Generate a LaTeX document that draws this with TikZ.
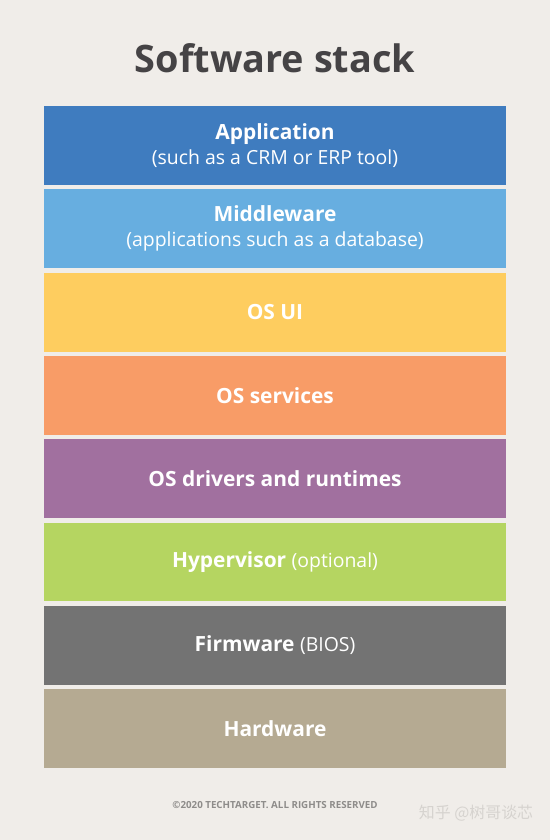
\documentclass[tikz,border=0pt]{standalone}
\usepackage{fontspec}
\setmainfont{Open Sans}
\newfontfamily\cjkfont{Noto Sans CJK SC}
\usepackage{xcolor}
\definecolor{BGCOLOR}{HTML}{F0EDE9}
\definecolor{TITLECOLOR}{HTML}{454345}
\definecolor{APPCOLOR}{HTML}{3F7CBF}
\definecolor{MIDCOLOR}{HTML}{67AEE0}
\definecolor{UICOLOR}{HTML}{FECD5F}
\definecolor{SVCCOLOR}{HTML}{F89C67}
\definecolor{DRVCOLOR}{HTML}{A1709F}
\definecolor{HYPCOLOR}{HTML}{B5D561}
\definecolor{FIRMCOLOR}{HTML}{737373}
\definecolor{HWCOLOR}{HTML}{B5AA92}
\definecolor{NOTECOLOR}{HTML}{8E8C8A}
\definecolor{MARKCOLOR}{HTML}{D6D3CF}
\usepackage{tikz}
\usetikzlibrary{positioning}
\newcommand{\subtext}[1]{{\mdseries\fontsize{19.5}{25}\selectfont #1}}
\tikzset{
  layer-style/.style = {
    rectangle, fill=#1, text=white,
    minimum width=462bp,
    minimum height=78.9bp,
    inner sep=0pt, align=center,
    font=\fontsize{21}{25}\selectfont\bfseries
  },
  title-style/.style = {
    text=TITLECOLOR, font=\fontsize{38}{42}\selectfont\bfseries
  },
  note-style/.style = {
    text=NOTECOLOR, font=\fontsize{9.8}{11}\selectfont\bfseries
  },
  mark-style/.style = {
    text=MARKCOLOR, font=\cjkfont\fontsize{16}{18}\selectfont
  }
}

\begin{document}
\begin{tikzpicture}[x=1bp,y=-1bp]
    \fill[BGCOLOR] (0,0) rectangle (550,840);
    \useasboundingbox (0,0) rectangle (550,840);

    %%% title
    \node[title-style] (title) at (275,58) {Software stack};

    %%% layers
    \node[layer-style=APPCOLOR] (app) at (275,145.5)
      {Application\\\subtext{(such as a CRM or ERP tool)}};
    \node[layer-style=MIDCOLOR,below=4bp of app] (mid)
      {Middleware\\\subtext{(applications such as a database)}};
    \node[layer-style=UICOLOR,below=4bp of mid] (osui) {OS UI};
    \node[layer-style=SVCCOLOR,below=4bp of osui] (ossvc) {OS services};
    \node[layer-style=DRVCOLOR,below=4bp of ossvc] (osdrv) {OS drivers and runtimes};
    \node[layer-style=HYPCOLOR,below=4bp of osdrv] (hyper)
      {Hypervisor \subtext{(optional)}};
    \node[layer-style=FIRMCOLOR,below=4bp of hyper] (firm)
      {Firmware \subtext{(BIOS)}};
    \node[layer-style=HWCOLOR,below=4bp of firm] (hw) {Hardware};

    %%% footer
    \node[note-style] (note) at (275,805) {\textcopyright2020 TECHTARGET. ALL RIGHTS RESERVED};
    \node[mark-style] (mark) at (476,813) {知乎 @树哥谈芯};
  \end{tikzpicture}
\end{document}
